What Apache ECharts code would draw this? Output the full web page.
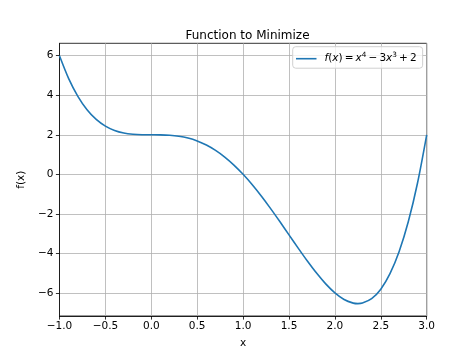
<!DOCTYPE html>
<html><head><meta charset="utf-8">
<script src="https://cdn.jsdelivr.net/npm/echarts@6/dist/echarts.min.js"></script>
<style>html,body{margin:0;padding:0;background:#fff}#c{width:474px;height:355px}</style>
</head><body><div id="c"></div>
<script>
const xValues = [-1.0,-0.9,-0.8,-0.7,-0.6,-0.5,-0.4,-0.3,-0.2,-0.1,0.0,0.1,0.2,0.3,0.4,0.5,0.6,0.7,0.8,0.9,1.0,1.1,1.2,1.3,1.4,1.5,1.6,1.7,1.8,1.9,2.0,2.1,2.2,2.25,2.3,2.4,2.5,2.6,2.7,2.8,2.9,3.0];
const yValues = [6.0,4.843,3.946,3.269,2.778,2.438,2.218,2.089,2.026,2.003,2.0,1.997,1.978,1.927,1.834,1.688,1.482,1.211,0.874,0.469,0.0,-0.529,-1.110,-1.735,-2.390,-3.063,-3.734,-4.387,-4.998,-5.545,-6.0,-6.335,-6.518,-6.543,-6.517,-6.294,-5.813,-5.030,-3.905,-2.390,-0.439,2.0];
const yTicks = [-6,-4,-2,0,2,4,6];
const seriesName = 'f(x) = x^4 - 3x^3 + 2';
const titleText = 'Function to Minimize';

const font = 'DejaVu Sans';
const minus = s => String(s).replace('-', '\u2212');
const chart = echarts.init(document.getElementById('c'), null, {renderer: 'canvas'});
chart.setOption({
  animation: false,
  title: {text: titleText, left: 242.5, top: 25, textAlign: 'center',
    textStyle: {fontFamily: font, fontSize: 12, fontWeight: 'normal', color: '#000'}},
  grid: {left: 59.5, right: 47.3, top: 43.3, bottom: 39, containLabel: false,
    show: true, borderColor: '#000', borderWidth: 0.8, backgroundColor: 'transparent'},
  legend: {
    left: 292.7, top: 46.7, orient: 'vertical',
    icon: 'rect', itemWidth: 20.5, itemHeight: 1.6, itemGap: 0,
    padding: [5, 6, 4, 3.3],
    borderColor: '#d0d0d0', borderWidth: 1, borderRadius: 3,
    backgroundColor: 'rgba(255,255,255,0.8)',
    formatter: () => '{i|f}({i|x})\u2009=\u2009{i|x}{s|4}\u2009\u2212\u20093{i|x}{s|3}\u2009+\u20092',
    textStyle: {fontFamily: font, fontSize: 10.5, color: '#000', padding: [0, 0, 0, 3],
      rich: {
        i: {fontFamily: font, fontStyle: 'italic', fontSize: 10.5, color: '#000'},
        s: {fontFamily: font, fontSize: 7.3, color: '#000', padding: [0, 0, 7, 0]}
      }}
  },
  xAxis: {
    type: 'value', min: -1, max: 3, interval: 0.5,
    name: 'x', nameLocation: 'middle', nameGap: 22,
    nameTextStyle: {fontFamily: font, fontSize: 10.5, color: '#000'},
    axisLine: {onZero: false, lineStyle: {color: '#000', width: 0.8}},
    axisTick: {show: true, length: 3.6, inside: false, lineStyle: {color: '#000', width: 0.8}},
    axisLabel: {fontFamily: font, fontSize: 10.5, color: '#000', margin: 5,
      formatter: v => minus(v.toFixed(1))},
    splitLine: {show: true, lineStyle: {color: '#b0b0b0', width: 0.8}}
  },
  yAxis: {
    type: 'value', min: -7.17, max: 6.63,
    name: 'f(x)', nameLocation: 'middle', nameGap: 21, nameRotate: 90,
    nameTextStyle: {fontFamily: font, fontSize: 10.5, color: '#000'},
    axisLine: {show: true, onZero: false, lineStyle: {color: '#000', width: 0.8}},
    axisTick: {show: true, length: 3.6, customValues: yTicks, lineStyle: {color: '#000', width: 0.8}},
    axisLabel: {fontFamily: font, fontSize: 10.5, color: '#000', margin: 6, customValues: yTicks,
      formatter: v => minus(v)},
    splitLine: {show: true, lineStyle: {color: '#b0b0b0', width: 0.8}}
  },
  series: [{
    name: seriesName, type: 'line', smooth: 0.3, symbol: 'none', showSymbol: false,
    lineStyle: {color: '#1f77b4', width: 1.6}, itemStyle: {color: '#1f77b4'},
    data: xValues.map((x, i) => [x, yValues[i]])
  }]
});
</script></body></html>
